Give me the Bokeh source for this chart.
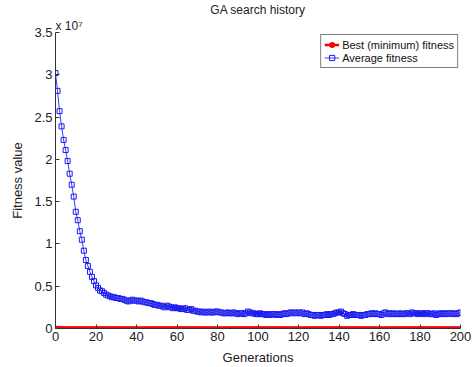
from bokeh.plotting import figure
from bokeh.models import FixedTicker, Legend, LegendItem, Title
from bokeh.embed import file_html
from bokeh.resources import INLINE

# Fitness values in units of 1e7
generations = list(range(201))

avg_fitness = [
    3.02, 2.81, 2.57, 2.39, 2.23, 2.11, 1.98, 1.83, 1.70, 1.56,
    1.38, 1.28, 1.15, 1.05, 0.92, 0.81, 0.74, 0.67, 0.61, 0.56,
    0.51, 0.48, 0.45, 0.44, 0.42, 0.40, 0.39, 0.38, 0.37, 0.37,
    0.36, 0.36, 0.35, 0.35, 0.34, 0.33, 0.32, 0.33, 0.34, 0.33,
    0.33, 0.32, 0.33, 0.32, 0.31, 0.31, 0.30, 0.30, 0.29, 0.28,
    0.28, 0.27, 0.27, 0.26, 0.25, 0.27, 0.26, 0.25, 0.24, 0.25,
    0.24, 0.24, 0.23, 0.23, 0.24, 0.22, 0.22, 0.23, 0.21, 0.21,
    0.20, 0.20, 0.19, 0.20, 0.19, 0.19, 0.20, 0.19, 0.19, 0.20,
    0.20, 0.19, 0.19, 0.18, 0.18, 0.19, 0.18, 0.18, 0.19, 0.18,
    0.17, 0.18, 0.18, 0.17, 0.18, 0.20, 0.19, 0.18, 0.18, 0.17,
    0.17, 0.18, 0.17, 0.17, 0.16, 0.17, 0.16, 0.17, 0.17, 0.16,
    0.17, 0.16, 0.17, 0.18, 0.17, 0.18, 0.19, 0.18, 0.19, 0.18,
    0.19, 0.18, 0.19, 0.17, 0.18, 0.17, 0.16, 0.16, 0.15, 0.16,
    0.16, 0.15, 0.16, 0.16, 0.17, 0.16, 0.17, 0.17, 0.18, 0.19,
    0.19, 0.20, 0.18, 0.17, 0.15, 0.16, 0.16, 0.17, 0.16, 0.16,
    0.16, 0.15, 0.16, 0.16, 0.17, 0.17, 0.18, 0.17, 0.18, 0.17,
    0.17, 0.16, 0.18, 0.19, 0.17, 0.18, 0.17, 0.18, 0.17, 0.17,
    0.18, 0.17, 0.17, 0.18, 0.18, 0.17, 0.19, 0.18, 0.18, 0.17,
    0.18, 0.18, 0.17, 0.18, 0.18, 0.17, 0.17, 0.18, 0.16, 0.17,
    0.18, 0.17, 0.18, 0.17, 0.18, 0.18, 0.17, 0.18, 0.17, 0.18,
    0.19,
]

best_fitness = [
    0.012, 0.010, 0.009, 0.008, 0.007, 0.006, 0.006, 0.006, 0.005, 0.005,
    0.005, 0.005, 0.005, 0.005, 0.005, 0.005, 0.005, 0.005, 0.005, 0.005,
    0.005, 0.005, 0.005, 0.005, 0.005, 0.005, 0.005, 0.005, 0.005, 0.005,
    0.005, 0.005, 0.005, 0.005, 0.005, 0.005, 0.005, 0.005, 0.005, 0.005,
    0.005, 0.005, 0.005, 0.005, 0.005, 0.005, 0.005, 0.005, 0.005, 0.005,
    0.005, 0.005, 0.005, 0.005, 0.005, 0.005, 0.005, 0.005, 0.005, 0.005,
    0.005, 0.005, 0.005, 0.005, 0.005, 0.005, 0.005, 0.005, 0.005, 0.005,
    0.005, 0.005, 0.005, 0.005, 0.005, 0.005, 0.005, 0.005, 0.005, 0.005,
    0.005, 0.005, 0.005, 0.005, 0.005, 0.005, 0.005, 0.005, 0.005, 0.005,
    0.005, 0.005, 0.005, 0.005, 0.005, 0.005, 0.005, 0.005, 0.005, 0.005,
    0.005, 0.005, 0.005, 0.005, 0.005, 0.005, 0.005, 0.005, 0.005, 0.005,
    0.005, 0.005, 0.005, 0.005, 0.005, 0.005, 0.005, 0.005, 0.005, 0.005,
    0.005, 0.005, 0.005, 0.005, 0.005, 0.005, 0.005, 0.005, 0.005, 0.005,
    0.005, 0.005, 0.005, 0.005, 0.005, 0.005, 0.005, 0.005, 0.005, 0.005,
    0.005, 0.005, 0.005, 0.005, 0.005, 0.005, 0.005, 0.005, 0.005, 0.005,
    0.005, 0.005, 0.005, 0.005, 0.005, 0.005, 0.005, 0.005, 0.005, 0.005,
    0.005, 0.005, 0.005, 0.005, 0.005, 0.005, 0.005, 0.005, 0.005, 0.005,
    0.005, 0.005, 0.005, 0.005, 0.005, 0.005, 0.005, 0.005, 0.005, 0.005,
    0.005, 0.005, 0.005, 0.005, 0.005, 0.005, 0.005, 0.005, 0.005, 0.005,
    0.005, 0.005, 0.005, 0.005, 0.005, 0.005, 0.005, 0.005, 0.005, 0.005,
    0.005,
]

x_ticks = [0, 20, 40, 60, 80, 100, 120, 140, 160, 180, 200]
y_ticks = [0, 0.5, 1, 1.5, 2, 2.5, 3, 3.5]
y_tick_labels = ["0", "0.5", "1", "1.5", "2", "2.5", "3", "3.5"]

FONT = "Liberation Sans"
TXT = "#222222"

p = figure(width=474, height=367, output_backend="svg", toolbar_location=None,
           title=None, x_range=(0, 200), y_range=(0, 3.5),
           min_border_left=55, min_border_right=14, min_border_top=31, min_border_bottom=39)
p.outline_line_color = None
p.xgrid.visible = False
p.ygrid.visible = False

exp_title = Title(text="x 10\u2077", align="left", text_font=FONT, text_font_size="12px",
                  text_font_style="normal", text_color=TXT, standoff=0, offset=0)
main_title = Title(text="GA search history", align="center", text_font=FONT,
                   text_font_size="12px", text_font_style="normal", text_color=TXT,
                   standoff=0)
p.add_layout(exp_title, "above")
p.add_layout(main_title, "above")

for ax in (p.xaxis[0], p.yaxis[0]):
    ax.major_tick_in = 4
    ax.major_tick_out = 0
    ax.minor_tick_in = 0
    ax.minor_tick_out = 0
    ax.axis_line_color = "#333333"
    ax.major_tick_line_color = "#333333"
    ax.major_label_text_font = FONT
    ax.major_label_text_font_size = "13px"
    ax.major_label_text_color = TXT
    ax.axis_label_text_font = FONT
    ax.axis_label_text_font_size = "13px"
    ax.axis_label_text_font_style = "normal"
    ax.axis_label_text_color = TXT

p.xaxis.ticker = FixedTicker(ticks=x_ticks)
p.yaxis.ticker = FixedTicker(ticks=y_ticks)
p.yaxis.major_label_overrides = {t: s for t, s in zip(y_ticks, y_tick_labels)}
p.xaxis.axis_label = "Generations"
p.yaxis.axis_label = "Fitness value"
p.xaxis.major_label_standoff = 3
p.xaxis.axis_label_standoff = 6
p.yaxis.major_label_standoff = 3
p.yaxis.axis_label_standoff = 6

avg_line = p.line(generations, avg_fitness, line_color="#3a3aff", line_width=1)
avg_mark = p.scatter(generations, avg_fitness, marker="square", size=5,
                     line_color="#1a1aee", fill_color=None, line_width=1)
best_line = p.line(generations, best_fitness, line_color="red", line_width=2.5)
best_mark = p.scatter(generations, best_fitness, marker="circle", size=3,
                      line_color="red", fill_color="red")

legend = Legend(items=[
    LegendItem(label="Best (minimum) fitness", renderers=[best_line, best_mark]),
    LegendItem(label="Average fitness", renderers=[avg_line, avg_mark]),
], location="top_right")
legend.label_text_font = FONT
legend.label_text_font_size = "11px"
legend.label_text_color = "#111111"
legend.border_line_color = "black"
legend.border_line_width = 1
legend.margin = 2
legend.padding = 3
legend.spacing = 0
legend.glyph_width = 15
legend.glyph_height = 13
legend.label_height = 13
legend.label_standoff = 3
legend.background_fill_alpha = 1
p.add_layout(legend)

open("out.html", "w").write(file_html(p, INLINE))
